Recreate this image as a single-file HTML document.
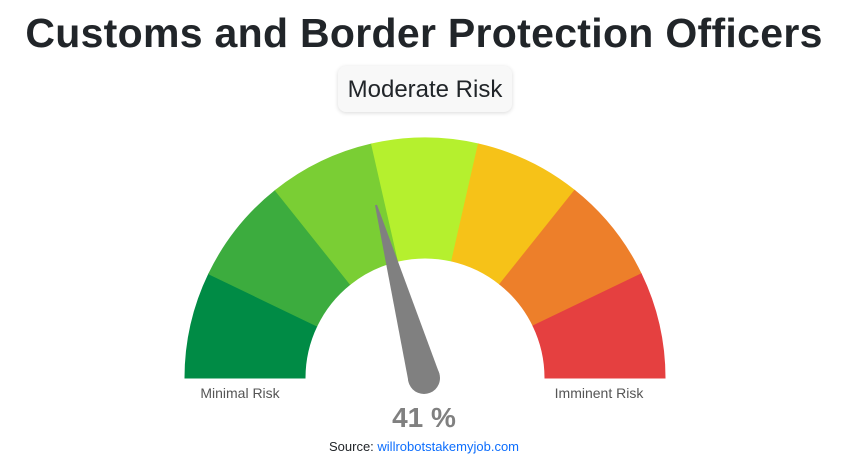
<!DOCTYPE html>
<html><head><meta charset="utf-8"><style>
body{margin:0;width:848px;height:465px;background:#fff;font-family:"Liberation Sans",sans-serif;overflow:hidden;position:relative}
.t{position:absolute;left:0;width:848px;top:5px;text-align:center;font-size:41px;font-weight:bold;color:#212529;line-height:56px;letter-spacing:0.3px}
.b{position:absolute;left:338px;top:66px;width:174px;height:46px;background:#f8f8f8;border-radius:8px;box-shadow:0 1px 4px rgba(0,0,0,.15);text-align:center;line-height:48px;font-size:24px;color:#212529}
.s{position:absolute;left:0;width:848px;top:439px;text-align:center;font-size:13px;color:#212529}
.s span{color:#0d6efd}
</style></head><body>
<div class="t">Customs and Border Protection Officers</div>
<div class="b">Moderate Risk</div>
<svg width="848" height="465" style="position:absolute;left:0;top:0">
<g stroke-width="1">
<path d="M185,378 A240,240 0 0 1 208.8,273.9 L316.9,325.9 A120,120 0 0 0 305,378Z" fill="#008b45" stroke="#008b45"/>
<path d="M208.8,273.9 A240,240 0 0 1 275.4,190.4 L350.2,284.2 A120,120 0 0 0 316.9,325.9Z" fill="#3cac3e" stroke="#3cac3e"/>
<path d="M275.4,190.4 A240,240 0 0 1 371.6,144 L398.3,261 A120,120 0 0 0 350.2,284.2Z" fill="#7ace34" stroke="#7ace34"/>
<path d="M371.6,144 A240,240 0 0 1 478.4,144 L451.7,261 A120,120 0 0 0 398.3,261Z" fill="#b5f02e" stroke="#b5f02e"/>
<path d="M478.4,144 A240,240 0 0 1 574.6,190.4 L499.8,284.2 A120,120 0 0 0 451.7,261Z" fill="#f6c218" stroke="#f6c218"/>
<path d="M574.6,190.4 A240,240 0 0 1 641.2,273.9 L533.1,325.9 A120,120 0 0 0 499.8,284.2Z" fill="#ed7f2a" stroke="#ed7f2a"/>
<path d="M641.2,273.9 A240,240 0 0 1 665,378 L545,378 A120,120 0 0 0 533.1,325.9Z" fill="#e54040" stroke="#e54040"/>
</g>
<polygon points="439.4,373.7 377,204.7 375,205.3 408.6,382.3" fill="#808080"/>
<circle cx="424" cy="378" r="16" fill="#808080"/>
<text x="240" y="398" text-anchor="middle" font-size="14" fill="#555">Minimal Risk</text>
<text x="599" y="398" text-anchor="middle" font-size="14" fill="#555">Imminent Risk</text>
<text x="424" y="427" text-anchor="middle" font-size="28" font-weight="bold" fill="#808080">41 %</text>
</svg>
<div class="s">Source: <span>willrobotstakemyjob.com</span></div>
</body></html>
